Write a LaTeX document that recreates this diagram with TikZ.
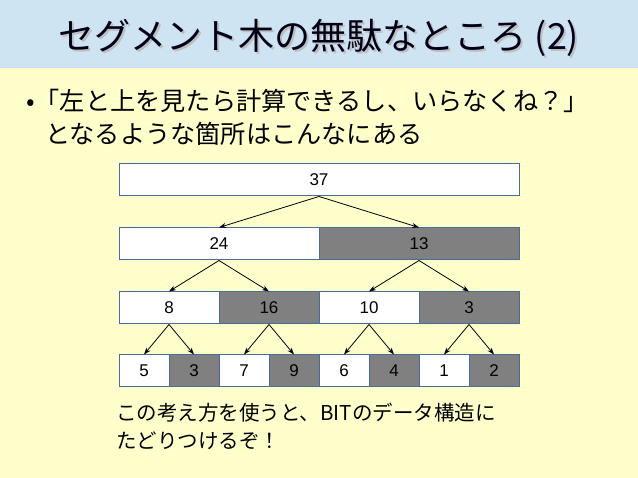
\documentclass[tikz,border=0pt]{standalone}
\usepackage{fontspec}
\setmainfont{Liberation Sans}
\newfontfamily\jp{Noto Sans CJK JP}
\usetikzlibrary{arrows.meta}
\definecolor{band}{HTML}{CFE4F3}
\definecolor{bg}{HTML}{FFFFCC}
\definecolor{edge}{HTML}{4A6C9B}
\definecolor{dark}{HTML}{808080}
\begin{document}
\begin{tikzpicture}[x=1pt,y=-1pt,
  cell/.style={draw=edge,line width=1pt,minimum height=32pt,inner sep=0pt,font=\fontsize{17}{17}\selectfont},
  wcell/.style={cell,fill=white},
  gcell/.style={cell,fill=dark},
  arr/.style={-{Stealth[length=7pt,width=5pt]},line width=0.8pt}]
\useasboundingbox (0,0) rectangle (638,478);
\fill[bg] (0,0) rectangle (638,478);
\fill[band] (0,0) rectangle (638,68);
\node (shadow) [text=black!25,font=\jp\fontsize{36}{36}\selectfont] at (321,40) {セグメント木の無駄なところ (2)};
\node (title) [text=black!90!blue,font=\jp\fontsize{36}{36}\selectfont] at (319,38) {セグメント木の無駄なところ (2)};
\node (b1) [anchor=west,font=\jp\fontsize{25.2}{25.2}\selectfont,inner sep=0pt] at (26,101) {•「左と上を見たら計算できるし、いらなくね？」};
\node (b2) [anchor=west,font=\jp\fontsize{25.2}{25.2}\selectfont,inner sep=0pt] at (45,134) {となるような箇所はこんなにある};
% tree
\node (r) [wcell,minimum width=400pt] at (319,180) {37};
\node (a) [wcell,minimum width=200pt] at (219,244) {24};
\node (b) [gcell,minimum width=200pt] at (419,244) {13};
\foreach \n/\v/\s [count=\i from 0] in {c/8/w,d/16/g,e/10/w,f/3/g}
  \node (\n) [\s cell,minimum width=100pt] at (169+\i*100,308) {\v};
\foreach \n/\v/\s [count=\i from 0] in {l0/5/w,l1/3/g,l2/7/w,l3/9/g,l4/6/w,l5/4/g,l6/1/w,l7/2/g}
  \node (\n) [\s cell,minimum width=50pt] at (144+\i*50,371) {\v};
\draw[arr] (r.south) -- (a.north);
\draw[arr] (r.south) -- (b.north);
\draw[arr] (a.south) -- (c.north);
\draw[arr] (a.south) -- (d.north);
\draw[arr] (b.south) -- (e.north);
\draw[arr] (b.south) -- (f.north);
\draw[arr] (c.south) -- (l0.north);
\draw[arr] (c.south) -- (l1.north);
\draw[arr] (d.south) -- (l2.north);
\draw[arr] (d.south) -- (l3.north);
\draw[arr] (e.south) -- (l4.north);
\draw[arr] (e.south) -- (l5.north);
\draw[arr] (f.south) -- (l6.north);
\draw[arr] (f.south) -- (l7.north);
\node (t1) [anchor=west,font=\jp\fontsize{20.5}{20.5}\selectfont,inner sep=0pt] at (116,413) {この考え方を使うと、BITのデータ構造に};
\node (t2) [anchor=west,font=\jp\fontsize{20.5}{20.5}\selectfont,inner sep=0pt] at (116,441) {たどりつけるぞ！};
\end{tikzpicture}
\end{document}
